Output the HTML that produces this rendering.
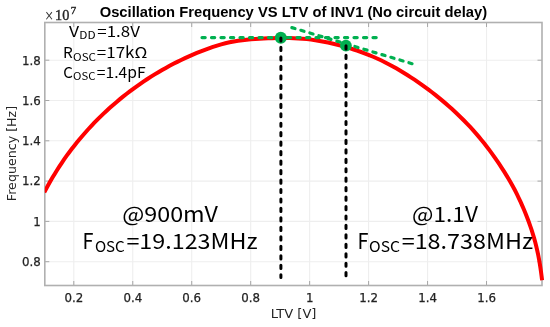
<!DOCTYPE html>
<html><head><meta charset="utf-8"><style>
html,body{margin:0;padding:0;background:#fff;width:550px;height:327px;overflow:hidden}
svg{display:block}
</style></head><body>
<svg width="550" height="327" viewBox="0 0 550 327">
<rect x="0" y="0" width="550" height="327" fill="#fff"/>
<g stroke="#eeeeee" stroke-width="1.1">
<line x1="73.80" y1="22.5" x2="73.80" y2="285.5"/>
<line x1="132.76" y1="22.5" x2="132.76" y2="285.5"/>
<line x1="191.72" y1="22.5" x2="191.72" y2="285.5"/>
<line x1="250.68" y1="22.5" x2="250.68" y2="285.5"/>
<line x1="309.64" y1="22.5" x2="309.64" y2="285.5"/>
<line x1="368.60" y1="22.5" x2="368.60" y2="285.5"/>
<line x1="427.56" y1="22.5" x2="427.56" y2="285.5"/>
<line x1="486.52" y1="22.5" x2="486.52" y2="285.5"/>
<line x1="44.8" y1="261.70" x2="542.0" y2="261.70"/>
<line x1="44.8" y1="221.40" x2="542.0" y2="221.40"/>
<line x1="44.8" y1="181.10" x2="542.0" y2="181.10"/>
<line x1="44.8" y1="140.80" x2="542.0" y2="140.80"/>
<line x1="44.8" y1="100.50" x2="542.0" y2="100.50"/>
<line x1="44.8" y1="60.20" x2="542.0" y2="60.20"/>
</g>
<g stroke="#a6a6a6" stroke-width="1">
<line x1="73.80" y1="285.5" x2="73.80" y2="281.0"/>
<line x1="73.80" y1="22.5" x2="73.80" y2="27.0"/>
<line x1="132.76" y1="285.5" x2="132.76" y2="281.0"/>
<line x1="132.76" y1="22.5" x2="132.76" y2="27.0"/>
<line x1="191.72" y1="285.5" x2="191.72" y2="281.0"/>
<line x1="191.72" y1="22.5" x2="191.72" y2="27.0"/>
<line x1="250.68" y1="285.5" x2="250.68" y2="281.0"/>
<line x1="250.68" y1="22.5" x2="250.68" y2="27.0"/>
<line x1="309.64" y1="285.5" x2="309.64" y2="281.0"/>
<line x1="309.64" y1="22.5" x2="309.64" y2="27.0"/>
<line x1="368.60" y1="285.5" x2="368.60" y2="281.0"/>
<line x1="368.60" y1="22.5" x2="368.60" y2="27.0"/>
<line x1="427.56" y1="285.5" x2="427.56" y2="281.0"/>
<line x1="427.56" y1="22.5" x2="427.56" y2="27.0"/>
<line x1="486.52" y1="285.5" x2="486.52" y2="281.0"/>
<line x1="486.52" y1="22.5" x2="486.52" y2="27.0"/>
<line x1="44.8" y1="261.70" x2="49.3" y2="261.70"/>
<line x1="542.0" y1="261.70" x2="537.5" y2="261.70"/>
<line x1="44.8" y1="221.40" x2="49.3" y2="221.40"/>
<line x1="542.0" y1="221.40" x2="537.5" y2="221.40"/>
<line x1="44.8" y1="181.10" x2="49.3" y2="181.10"/>
<line x1="542.0" y1="181.10" x2="537.5" y2="181.10"/>
<line x1="44.8" y1="140.80" x2="49.3" y2="140.80"/>
<line x1="542.0" y1="140.80" x2="537.5" y2="140.80"/>
<line x1="44.8" y1="100.50" x2="49.3" y2="100.50"/>
<line x1="542.0" y1="100.50" x2="537.5" y2="100.50"/>
<line x1="44.8" y1="60.20" x2="49.3" y2="60.20"/>
<line x1="542.0" y1="60.20" x2="537.5" y2="60.20"/>
</g>
<rect x="44.8" y="22.5" width="497.2" height="263.0" fill="none" stroke="#b0b0b0" stroke-width="1.6"/>
<g font-family="'DejaVu Sans', sans-serif" font-size="11.8" fill="#222" stroke="#222" stroke-width="0.25">
<text x="73.80" y="301.8" text-anchor="middle">0.2</text>
<text x="132.76" y="301.8" text-anchor="middle">0.4</text>
<text x="191.72" y="301.8" text-anchor="middle">0.6</text>
<text x="250.68" y="301.8" text-anchor="middle">0.8</text>
<text x="309.64" y="301.8" text-anchor="middle">1</text>
<text x="368.60" y="301.8" text-anchor="middle">1.2</text>
<text x="427.56" y="301.8" text-anchor="middle">1.4</text>
<text x="486.52" y="301.8" text-anchor="middle">1.6</text>
<text x="40.8" y="266.00" text-anchor="end">0.8</text>
<text x="40.8" y="225.70" text-anchor="end">1</text>
<text x="40.8" y="185.40" text-anchor="end">1.2</text>
<text x="40.8" y="145.10" text-anchor="end">1.4</text>
<text x="40.8" y="104.80" text-anchor="end">1.6</text>
<text x="40.8" y="64.50" text-anchor="end">1.8</text>
</g>
<text x="293.6" y="318.2" text-anchor="middle" font-family="'DejaVu Sans', sans-serif" font-size="13.1" fill="#262626">LTV [V]</text>
<text transform="translate(16,153.5) rotate(-90)" text-anchor="middle" font-family="'DejaVu Sans', sans-serif" font-size="12.65" fill="#262626">Frequency [Hz]</text>
<text x="293.4" y="16.5" text-anchor="middle" font-family="'Liberation Sans', sans-serif" font-weight="bold" font-size="14.75" fill="#000">Oscillation Frequency VS LTV of INV1 (No circuit delay)</text>
<g font-family="'Liberation Serif', serif" fill="#262626" stroke="#262626" stroke-width="0.3"><text x="45.0" y="22.3" font-size="18" textLength="8.3" lengthAdjust="spacingAndGlyphs" stroke-width="0.1">×</text><text x="55.0" y="20.1" font-size="15.2" textLength="14.3" lengthAdjust="spacingAndGlyphs" stroke-width="0.4">10</text><text x="70.7" y="13.6" font-size="10.8" stroke-width="0.45">7</text></g>
<defs><clipPath id="ax"><rect x="44.8" y="22.5" width="500.2" height="263.0"/></clipPath></defs>
<path clip-path="url(#ax)" d="M44.30,192.42 L46.31,188.61 L48.37,184.83 L50.48,181.08 L52.64,177.35 L54.86,173.66 L57.12,170.00 L59.44,166.37 L61.82,162.78 L64.25,159.22 L66.73,155.71 L69.28,152.23 L71.87,148.80 L74.52,145.40 L77.22,142.05 L79.96,138.73 L82.76,135.46 L85.60,132.22 L88.48,129.02 L91.41,125.86 L94.38,122.74 L97.39,119.67 L100.45,116.64 L103.55,113.65 L106.69,110.71 L109.87,107.81 L113.10,104.95 L116.36,102.14 L119.66,99.38 L123.00,96.66 L126.38,93.99 L129.79,91.37 L133.24,88.79 L136.73,86.26 L140.25,83.78 L143.81,81.35 L147.40,78.98 L151.02,76.66 L154.68,74.39 L158.37,72.17 L162.09,70.00 L165.85,67.89 L169.63,65.84 L173.44,63.84 L177.28,61.89 L181.15,60.00 L185.04,58.16 L188.96,56.37 L192.90,54.64 L196.87,52.96 L200.86,51.34 L204.87,49.78 L208.91,48.30 L212.98,46.90 L217.09,45.59 L221.22,44.38 L225.38,43.28 L229.58,42.31 L233.80,41.46 L238.04,40.75 L242.31,40.15 L246.59,39.66 L250.87,39.26 L255.17,38.93 L259.46,38.68 L263.76,38.47 L268.07,38.30 L272.37,38.16 L276.68,38.06 L280.98,38.00 L285.29,38.00 L289.59,38.06 L293.90,38.19 L298.20,38.40 L302.49,38.71 L306.78,39.11 L311.05,39.61 L315.32,40.22 L319.57,40.91 L323.80,41.69 L328.02,42.55 L332.22,43.49 L336.41,44.51 L340.57,45.59 L344.72,46.73 L348.86,47.95 L352.97,49.23 L357.05,50.58 L361.12,52.01 L365.15,53.51 L369.16,55.09 L373.13,56.75 L377.07,58.49 L380.97,60.31 L384.84,62.20 L388.67,64.17 L392.46,66.21 L396.22,68.32 L399.94,70.48 L403.62,72.71 L407.28,74.98 L410.90,77.31 L414.49,79.69 L418.04,82.12 L421.57,84.59 L425.06,87.11 L428.53,89.67 L431.95,92.28 L435.34,94.93 L438.70,97.62 L442.02,100.37 L445.30,103.15 L448.55,105.98 L451.76,108.85 L454.93,111.76 L458.07,114.71 L461.15,117.71 L464.20,120.75 L467.20,123.85 L470.16,126.98 L473.06,130.16 L475.91,133.38 L478.71,136.65 L481.47,139.96 L484.17,143.31 L486.82,146.71 L489.42,150.14 L491.97,153.61 L494.46,157.12 L496.92,160.66 L499.33,164.23 L501.70,167.82 L504.02,171.44 L506.30,175.10 L508.53,178.78 L510.69,182.50 L512.79,186.26 L514.82,190.06 L516.78,193.90 L518.66,197.77 L520.47,201.68 L522.22,205.61 L523.92,209.57 L525.56,213.55 L527.13,217.56 L528.65,221.58 L530.11,225.64 L531.50,229.71 L532.81,233.81 L534.03,237.94 L535.18,242.09 L536.25,246.26 L537.23,250.45 L538.13,254.67 L538.95,258.89 L539.69,263.13 L540.36,267.39 L540.99,271.65 L541.56,275.91 L542.10,280.19" fill="none" stroke="#ff0000" stroke-width="4" stroke-linejoin="round"/>
<g stroke="#00b050" stroke-width="3.2" stroke-linecap="round" fill="none">
<line x1="202" y1="37.6" x2="377" y2="37.6" stroke-dasharray="3.2 6.3"/>
<line x1="291.85" y1="27.6" x2="412.05" y2="63.66" stroke-dasharray="3.3 6.1"/>
</g>
<g fill="#00b050"><circle cx="280.8" cy="37.7" r="6.0"/><circle cx="345.9" cy="45.6" r="5.9"/></g>
<g stroke="#000" stroke-width="3" stroke-linecap="round" fill="none">
<line x1="280.9" y1="37.9" x2="280.9" y2="277.4" stroke-dasharray="3.2 6.27"/>
<line x1="346" y1="45.8" x2="346" y2="275.8" stroke-dasharray="3.2 6.25"/>
</g>
<g font-family="'Noto Sans CJK JP', 'Liberation Sans', sans-serif" fill="#000">
<text x="122.19" y="221.8" font-size="21" textLength="95.65" lengthAdjust="spacingAndGlyphs">@900mV</text>
<text x="82.51" y="249.2" font-size="21" textLength="10.95" lengthAdjust="spacingAndGlyphs">F</text>
<text x="94.90" y="251.6" font-size="14.5" textLength="29.88" lengthAdjust="spacingAndGlyphs">OSC</text>
<text x="126.40" y="249.2" font-size="21" textLength="131.20" lengthAdjust="spacingAndGlyphs">=19.123MHz</text>
<text x="412.12" y="222.2" font-size="21" textLength="65.78" lengthAdjust="spacingAndGlyphs">@1.1V</text>
<text x="357.61" y="249.4" font-size="21" textLength="10.95" lengthAdjust="spacingAndGlyphs">F</text>
<text x="369.00" y="251.9" font-size="14.5" textLength="31.01" lengthAdjust="spacingAndGlyphs">OSC</text>
<text x="401.70" y="249.4" font-size="21" textLength="131.40" lengthAdjust="spacingAndGlyphs">=18.738MHz</text>
<text x="68.90" y="36.9" font-size="15" textLength="10.08" lengthAdjust="spacingAndGlyphs">V</text>
<text x="79.37" y="39.3" font-size="10.5" textLength="16.34" lengthAdjust="spacingAndGlyphs">DD</text>
<text x="97.30" y="36.9" font-size="15" textLength="42.65" lengthAdjust="spacingAndGlyphs">=1.8V</text>
<text x="63.07" y="57.7" font-size="15" textLength="9.77" lengthAdjust="spacingAndGlyphs">R</text>
<text x="73.10" y="60.5" font-size="10.5" textLength="22.93" lengthAdjust="spacingAndGlyphs">OSC</text>
<text x="96.80" y="57.7" font-size="15" textLength="50.63" lengthAdjust="spacingAndGlyphs">=17kΩ</text>
<text x="63.30" y="77.6" font-size="15" textLength="9.58" lengthAdjust="spacingAndGlyphs">C</text>
<text x="73.10" y="80.2" font-size="10.5" textLength="22.41" lengthAdjust="spacingAndGlyphs">OSC</text>
<text x="96.80" y="77.6" font-size="15" textLength="48.82" lengthAdjust="spacingAndGlyphs">=1.4pF</text>
</g>
</svg>
</body></html>
